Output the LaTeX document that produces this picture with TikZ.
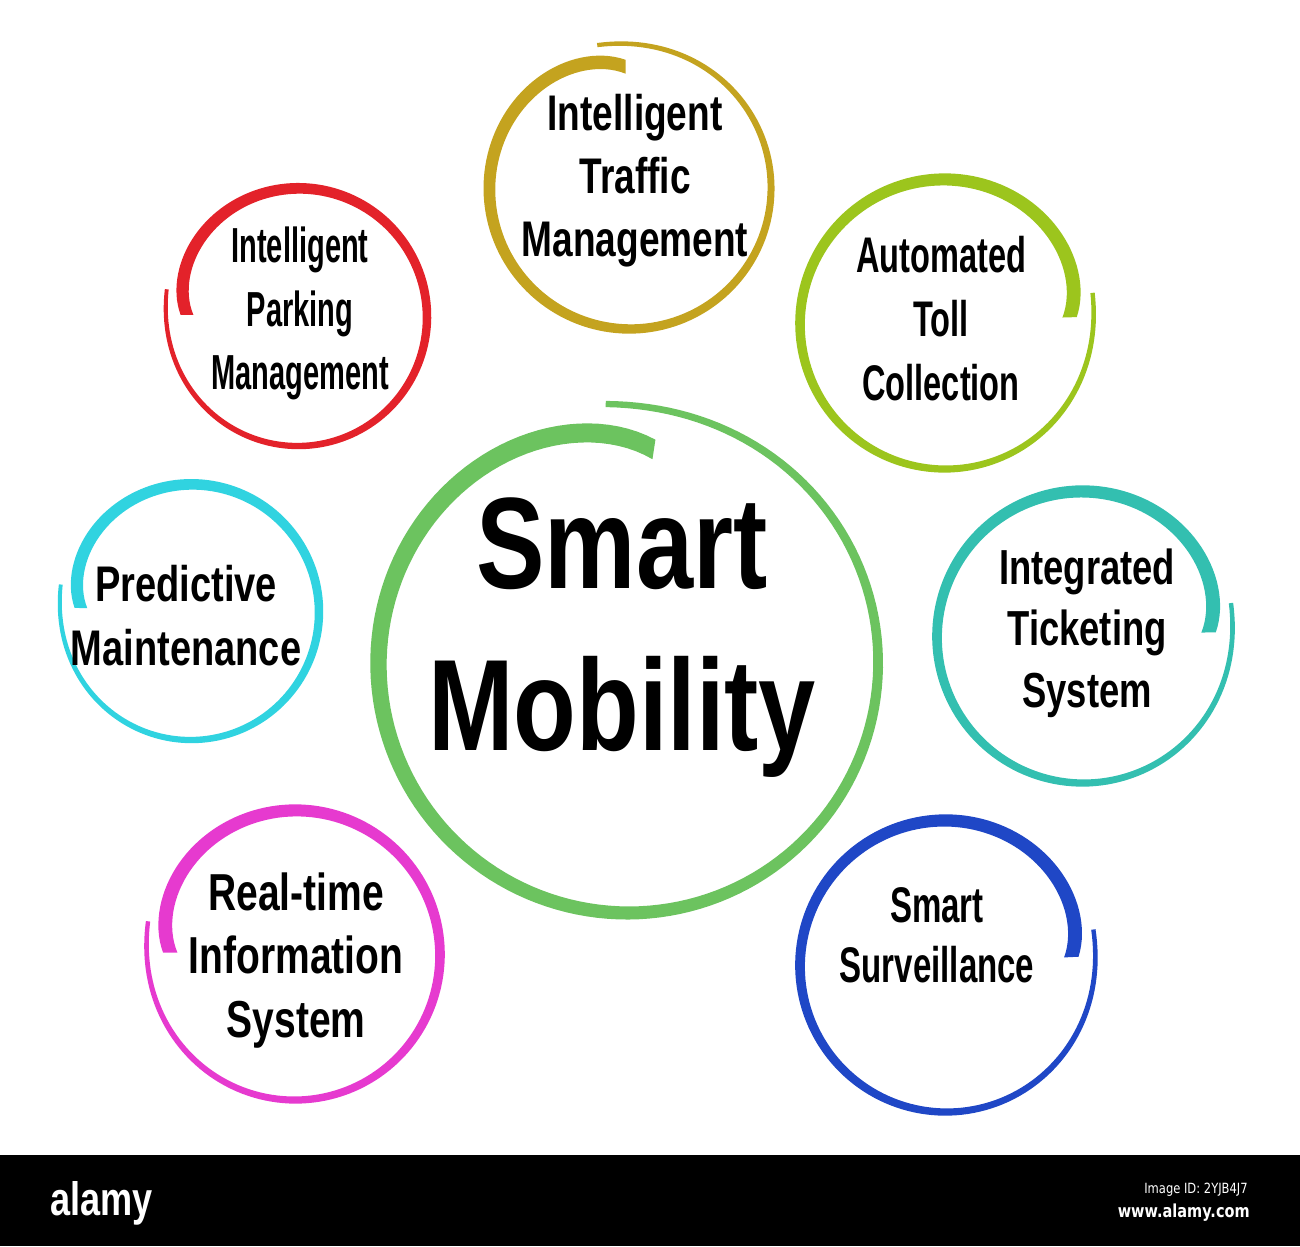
\documentclass[tikz,border=0pt]{standalone}
\usepackage{fontspec}
\setmainfont{Liberation Sans}
\newcommand{\ringfont}[3]{\fontspec{Liberation Sans}[FakeStretch=#1]\bfseries\fontsize{#2}{#3}\selectfont}
\newcommand{\barfont}[3]{\fontspec{DejaVu Sans}[FakeStretch=#1]\fontsize{#2}{#3}\selectfont}
\definecolor{mobgreen}{HTML}{6CC35F}
\definecolor{trafficgold}{HTML}{C4A31F}
\definecolor{parkingred}{HTML}{E3222A}
\definecolor{tolllime}{HTML}{9CC51D}
\definecolor{ticketteal}{HTML}{33BFB0}
\definecolor{survblue}{HTML}{1F47C6}
\definecolor{infomagenta}{HTML}{E63ACF}
\definecolor{maintcyan}{HTML}{30D3E0}
\tikzset{ringtext/.style={align=center,anchor=base,inner sep=0pt,text=black}}
\tikzset{bartext/.style={inner sep=0pt,text=white}}
% brush stroke ring: centre x, centre y, radius, start angle, sweep, colour, start width, width loss
\newcommand{\brushring}[8]{%
  \begin{scope}[shift={(#1,#2)}]
    \fill[#6] plot[domain=0:1,samples=160]
        ({-(#4+(#5)*\x)}:{#3*(1-0.14*exp(-\x/0.06)+0.04*exp((\x-1)/0.06)+(#7-#8*\x)/2)})
      -- plot[domain=1:0,samples=160]
        ({-(#4+(#5)*\x)}:{#3*(1-0.14*exp(-\x/0.06)+0.04*exp((\x-1)/0.06)-(#7-#8*\x)/2)})
      -- cycle;
  \end{scope}}

\begin{document}
\begin{tikzpicture}[x=0.02cm,y=-0.02cm]
    \useasboundingbox (0,0) rectangle (1300,1246);

    \brushring{628}{663}{250}{83}{372}{mobgreen}{0.08}{0.055}
    \brushring{630}{188}{141}{92}{371}{trafficgold}{0.10}{0.07}
    \brushring{298}{317}{129}{179}{-371}{parkingred}{0.10}{0.07}
    \brushring{945}{324}{145}{3}{369}{tolllime}{0.10}{0.07}
    \brushring{1083}{637}{146}{2}{371}{ticketteal}{0.10}{0.07}
    \brushring{946}{966}{146}{4}{370}{survblue}{0.10}{0.07}
    \brushring{295}{955}{145}{179}{-372}{infomagenta}{0.10}{0.07}
    \brushring{191}{612}{128}{178}{-370}{maintcyan}{0.10}{0.07}

    % anchor base sits on the last line
    \node[ringtext,font={\ringfont{0.79}{74pt}{92pt}}] (mobility) at (622,750) {Smart\\Mobility};
    \node[ringtext,font={\ringfont{0.74}{28.5pt}{36pt}}] (traffic) at (635,257) {Intelligent\\Traffic\\Management};
    \node[ringtext,font={\ringfont{0.59}{28pt}{36.4pt}}] (parking) at (300,390) {Intelligent\\Parking\\Management};
    \node[ringtext,font={\ringfont{0.65}{28.5pt}{36.4pt}}] (toll) at (941,400) {Automated\\Toll\\Collection};
    \node[ringtext,font={\ringfont{0.74}{28pt}{34.8pt}}] (ticketing) at (1087,707) {Integrated\\Ticketing\\System};
    \node[ringtext,font={\ringfont{0.66}{28.5pt}{33.6pt}}] (surveillance) at (937,982) {Smart\\Surveillance};
    \node[ringtext,font={\ringfont{0.75}{29.6pt}{36pt}}] (realtime) at (296,1037) {Real-time\\Information\\System};
    \node[ringtext,font={\ringfont{0.76}{28.5pt}{36.4pt}}] (maintenance) at (186,665) {Predictive\\Maintenance};

    \fill[black] (0,1155) rectangle (1300,1246);
    \node[bartext,anchor=base west,font={\ringfont{0.77}{26.7pt}{30pt}}] (alamy) at (50,1215) {alamy};
    \node[bartext,anchor=base east,font={\barfont{0.82}{8pt}{10pt}}] (imageid) at (1248,1193) {Image ID: 2YJB4J7};
    \node[bartext,anchor=base east,font={\barfont{0.81}{10.2pt}{12pt}\bfseries}] (website) at (1250,1217) {www.alamy.com};
\end{tikzpicture}
\end{document}
